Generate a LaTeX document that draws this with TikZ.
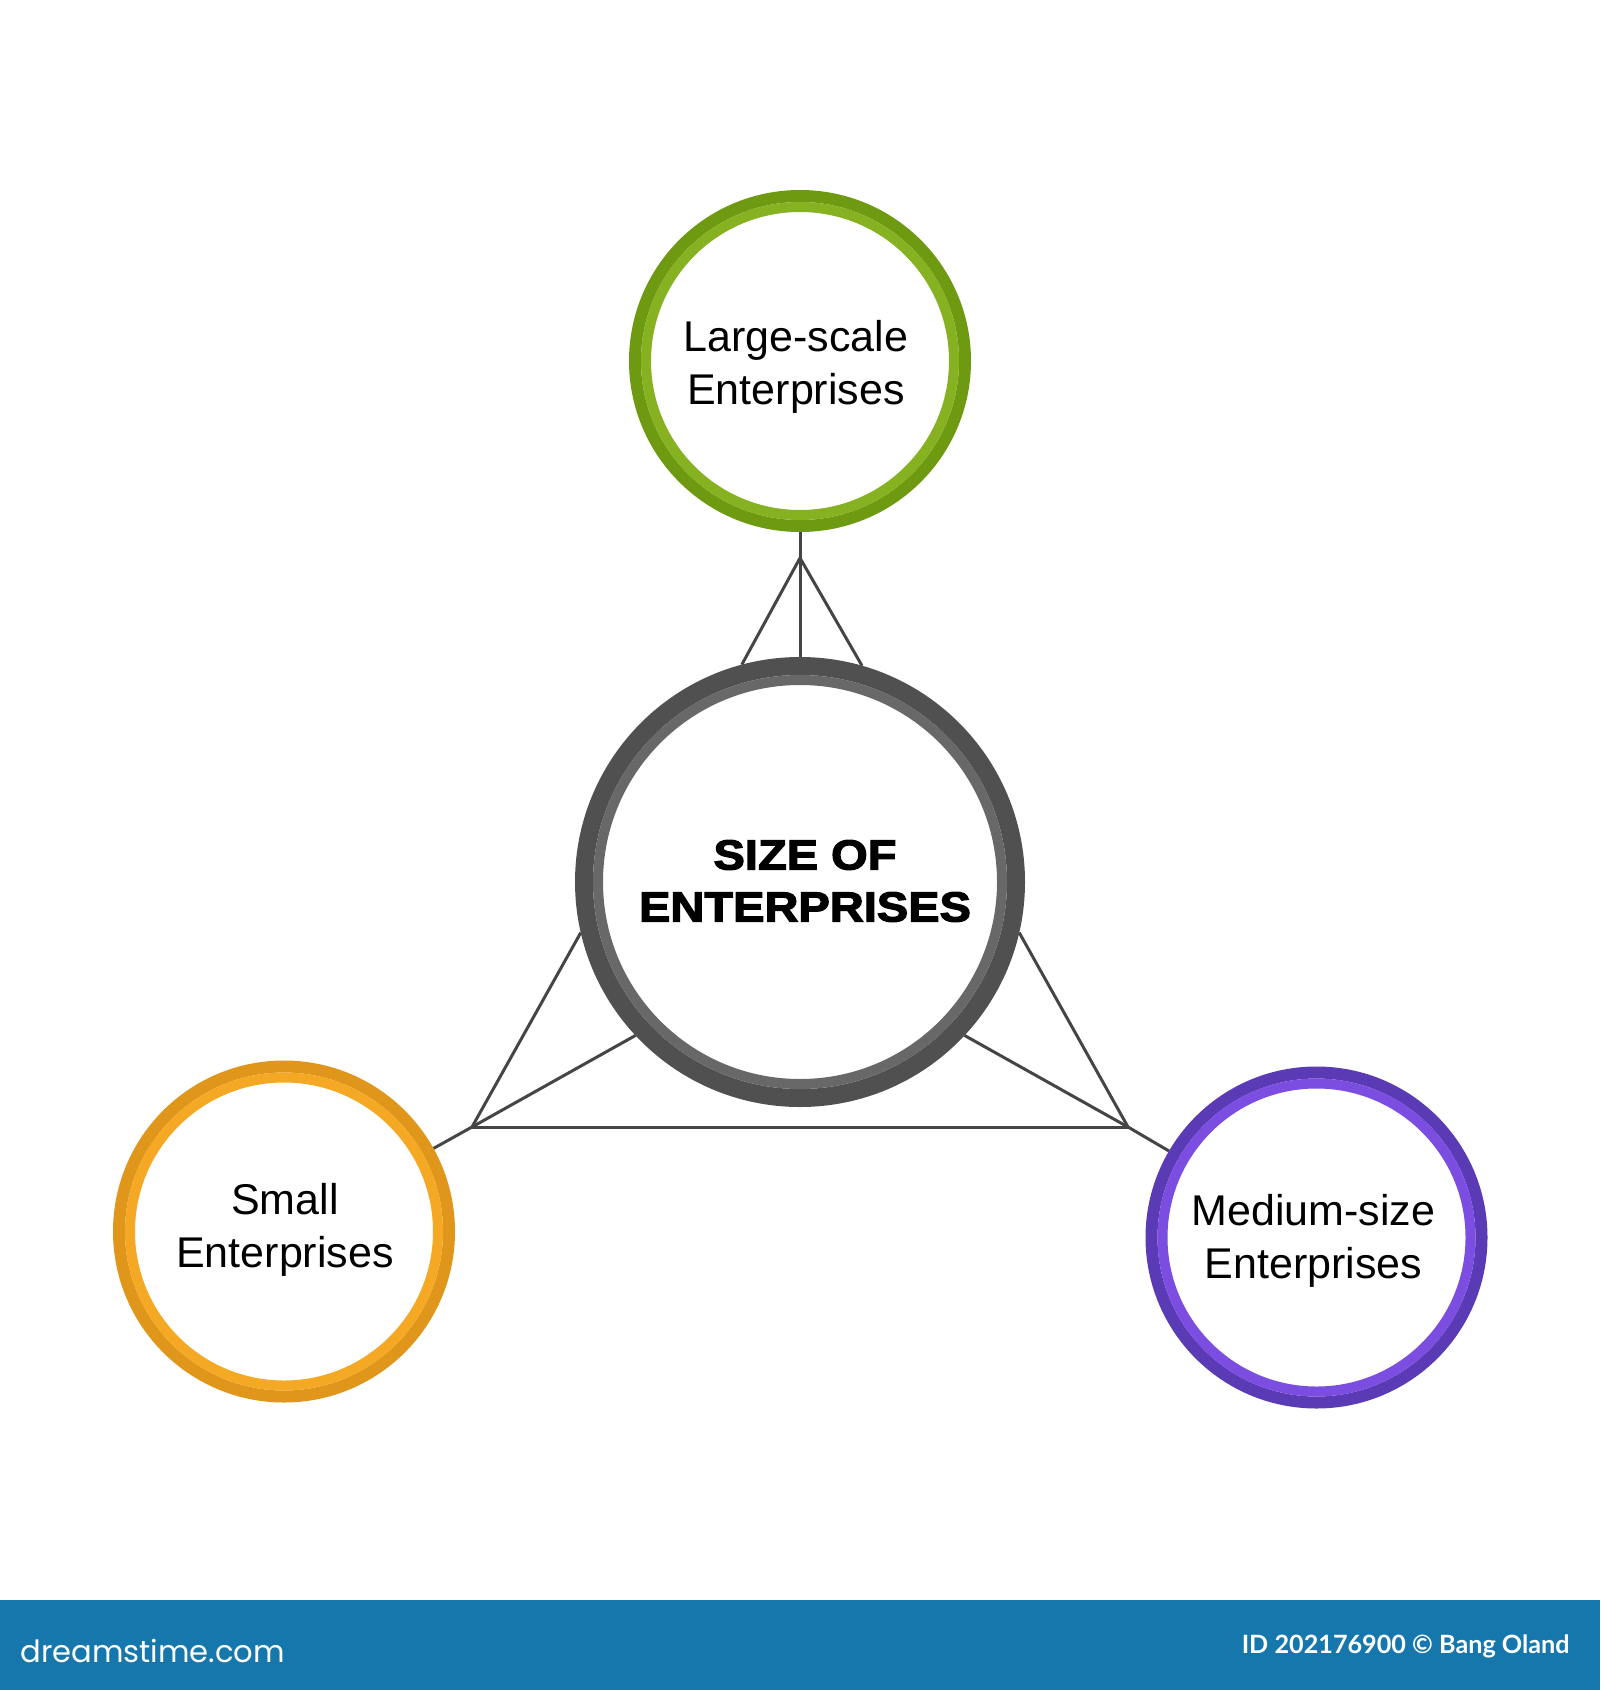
\documentclass[tikz,border=0pt]{standalone}
\usepackage{fontspec}
\setmainfont{Liberation Sans}
\newfontfamily\heavyfont[FakeStretch=1.12,BoldFeatures={FakeBold=3}]{Liberation Sans}
\newfontfamily\logofont{Poppins}
\newfontfamily\idfont{Lato}
\definecolor{greenD}{HTML}{6E9A12}
\definecolor{greenL}{HTML}{86B121}
\definecolor{orangeD}{HTML}{E0961A}
\definecolor{orangeL}{HTML}{F4A823}
\definecolor{purpleD}{HTML}{5A3BB5}
\definecolor{purpleL}{HTML}{7B4DE0}
\definecolor{grayD}{HTML}{505050}
\definecolor{grayL}{HTML}{686868}
\definecolor{linegray}{HTML}{454545}
\definecolor{barblue}{HTML}{1677AD}
\newcommand\myring[6]{%
  \draw[#5, line width=#3*0.5pt] (#1) circle[radius=#2-#3/2];
  \draw[#6, line width=#4*0.5pt] (#1) circle[radius=#2-#3-#4/2];}
\begin{document}
\begin{tikzpicture}[x=0.5pt,y=-0.5pt,
  circ/.style={circle, inner sep=0pt, outer sep=0pt, minimum size=#1, fill=white, draw=none},
  conn/.style={draw=linegray, line width=1.5pt},
  lbl/.style={align=center, inner sep=0pt, font=\fontsize{21.5}{26.5}\selectfont},
  corelbl/.style={align=center, inner sep=0pt, font=\heavyfont\bfseries\fontsize{21}{26}\selectfont}]
\fill[white] (0,0) rectangle (1600,1690);
\useasboundingbox (0,0) rectangle (1600,1690);
% circles
\node[circ=225pt] (core) at (800,882) {};
\node[circ=171pt] (large) at (800,361) {};
\node[circ=171pt] (small) at (284,1231.5) {};
\node[circ=171pt] (medium) at (1316.5,1237.5) {};
% junctions
\coordinate (apex) at (800,558);
\coordinate (jl) at (472,1127);
\coordinate (jr) at (1128,1127);
% connectors
\draw[conn] (large) -- (core);
\draw[conn] (apex) -- (core.105.8);
\draw[conn] (apex) -- (core.74.2);
\draw[conn] (jl) -- (core.193.7);
\draw[conn] (jl) -- (core.223);
\draw[conn] (jl) -- (small);
\draw[conn] (jl) -- (jr);
\draw[conn] (jr) -- (core.-13.7);
\draw[conn] (jr) -- (core.-43);
\draw[conn] (jr) -- (medium);
% rings
\myring{core}{225}{18}{10}{grayD}{grayL}
\myring{large}{171}{12}{10}{greenD}{greenL}
\myring{small}{171}{12}{10}{orangeD}{orangeL}
\myring{medium}{171}{12}{10}{purpleD}{purpleL}
% labels
\node[corelbl] (coreT) at (805,881) {SIZE OF\\ENTERPRISES};
\node[lbl] (largeT) at (796,366.5) {Large-scale\\Enterprises};
\node[lbl] (smallT) at (285,1229.5) {Small\\Enterprises};
\node[lbl] (mediumT) at (1313.5,1240.5) {Medium-size\\Enterprises};
% bottom bar
\fill[barblue] (0,1600) rectangle (1600,1690);
\node[anchor=base west, inner sep=0pt, text=white, font=\logofont\fontsize{15.3}{19}\selectfont] (logo) at (20,1662) {dreamstime.com};
\node[anchor=base east, inner sep=0pt, text=white, font=\idfont\bfseries\fontsize{12.6}{15}\selectfont] (credit) at (1570,1653) {ID 202176900 © Bang Oland};
\end{tikzpicture}
\end{document}
